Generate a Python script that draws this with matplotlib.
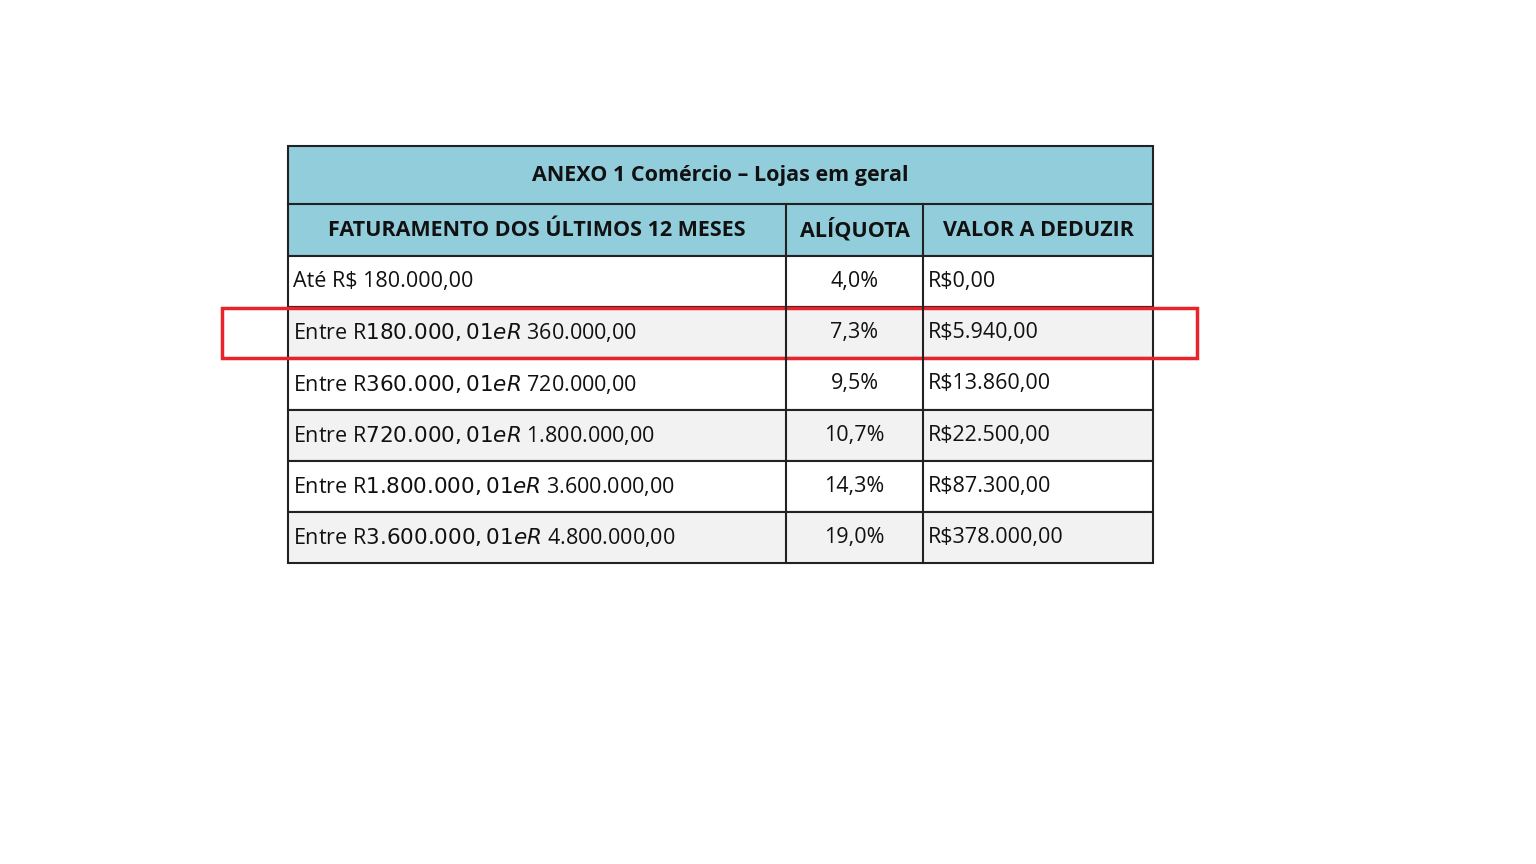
import matplotlib
matplotlib.use("Agg")
import matplotlib.pyplot as plt
from matplotlib.patches import Rectangle

title = "ANEXO 1 Comércio – Lojas em geral"
headers = ["FATURAMENTO DOS ÚLTIMOS 12 MESES", "ALÍQUOTA", "VALOR A DEDUZIR"]
faixas = ["Até R$ 180.000,00",
          "Entre R$ 180.000,01 e R$ 360.000,00",
          "Entre R$ 360.000,01 e R$ 720.000,00",
          "Entre R$ 720.000,01 e R$ 1.800.000,00",
          "Entre R$ 1.800.000,01 e R$ 3.600.000,00",
          "Entre R$ 3.600.000,01 e R$ 4.800.000,00"]
aliquotas = ["4,0%", "7,3%", "9,5%", "10,7%", "14,3%", "19,0%"]
deduzir = ["R$0,00", "R$5.940,00", "R$13.860,00", "R$22.500,00", "R$87.300,00", "R$378.000,00"]
highlight_row = 1

fig = plt.figure(figsize=(15.36, 8.64), dpi=100)
ax = fig.add_axes([0, 0, 1, 1])
ax.set_xlim(0, 1536); ax.set_ylim(864, 0); ax.axis("off")

FONT = "Open Sans"
cols = [288, 786, 923, 1153]
top_title, top_head, top_data, rh = 146, 204, 256, 51.2
blue = "#92CDDC"
fs = 15.5

ax.add_patch(Rectangle((cols[0], top_title), cols[-1]-cols[0], top_data-top_title, fc=blue, ec="#222", lw=1.5))
ax.plot([cols[0], cols[-1]], [top_head]*2, color="#222", lw=1.5)
ax.text((cols[0]+cols[-1])/2, (top_title+top_head)/2, title, ha="center", va="center",
        fontsize=fs, fontweight="bold", family=FONT, color="#111")
for i, h in enumerate(headers):
    ax.plot([cols[i+1]]*2, [top_head, top_data], color="#222", lw=1.5) if i < 2 else None
    ax.text((cols[i]+cols[i+1])/2, (top_head+top_data)/2, h, ha="center", va="center",
            fontsize=fs, fontweight="bold", family=FONT, color="#111")

for r in range(len(faixas)):
    y0 = top_data + r*rh
    fc = "#F2F2F2" if r % 2 == 1 else "white"
    ax.add_patch(Rectangle((cols[0], y0), cols[-1]-cols[0], rh, fc=fc, ec="#222", lw=1.5))
    for c in (1, 2):
        ax.plot([cols[c]]*2, [y0, y0+rh], color="#222", lw=1.5)
    yc = y0 + rh/2
    ax.text(cols[0]+5, yc, faixas[r], ha="left", va="center", fontsize=fs, family=FONT, color="#111")
    ax.text((cols[1]+cols[2])/2, yc, aliquotas[r], ha="center", va="center", fontsize=fs, family=FONT, color="#111")
    ax.text(cols[2]+5, yc, deduzir[r], ha="left", va="center", fontsize=fs, family=FONT, color="#111")

hy = top_data + highlight_row*rh
ax.add_patch(Rectangle((222, hy+1), 1197-222, rh-1, fc="none", ec="#E8242A", lw=2.5))

fig.savefig("out.png", dpi=100, facecolor="white")
